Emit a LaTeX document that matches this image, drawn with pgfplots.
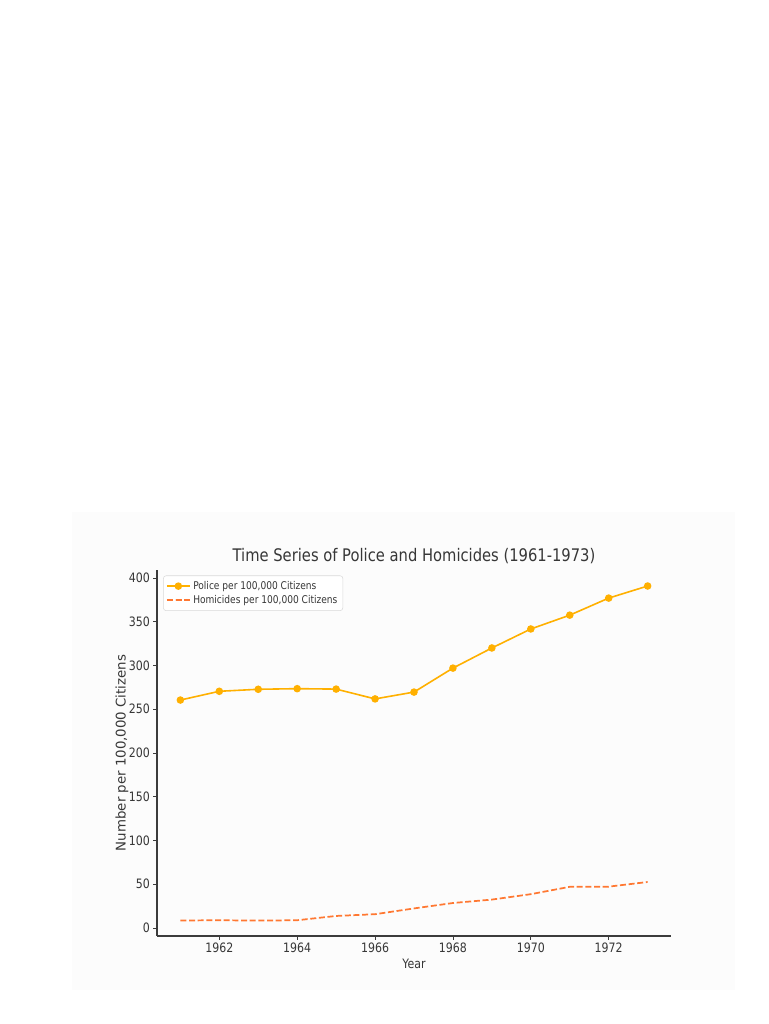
\documentclass[border=0pt]{standalone}
\usepackage{pgfplots}
\pgfplotsset{compat=1.18}
\usepackage{fontspec}
\setmainfont{DejaVu Sans}
\newfontfamily\cond[FakeStretch=0.85]{DejaVu Sans}
\definecolor{police}{RGB}{255,176,0}
\definecolor{homi}{RGB}{255,120,50}
\definecolor{bgc}{RGB}{252,252,252}
\definecolor{axc}{RGB}{60,60,60}
\definecolor{txc}{RGB}{55,55,55}
\begin{document}
\begin{tikzpicture}
\path (0,0) rectangle (576pt,768pt);
\fill[bgc] (54pt,25.5pt) rectangle (551.25pt,384pt);
\begin{axis}[
  at={(117.75pt,66pt)}, anchor=south west,
  scale only axis, width=385.5pt, height=274.5pt,
  xmin=1960.4, xmax=1973.6, ymin=-9.1, ymax=409.1,
  axis x line*=bottom, axis y line*=left,
  axis line style={-, draw=axc, line width=0.8pt},
  xtick={1962,1964,...,1972}, ytick={0,50,...,400},
  tick align=outside, major tick length=3pt,
  tick style={draw=axc, line width=0.6pt},
  /pgf/number format/1000 sep={},
  /pgf/number format/assume math mode=true,
  ticklabel style={font=\cond\fontsize{9.7}{11}\selectfont, text=txc},
  yticklabel style={xshift=1.2pt},
  xticklabel style={yshift=1.5pt},
  xlabel={Year}, ylabel={Number per 100,000 Citizens},
  xlabel style={font=\cond\fontsize{9.7}{11}\selectfont, text=txc, yshift=2pt},
  ylabel style={font=\fontsize{10}{12}\selectfont, text=txc},
  ylabel shift=-6.5pt,
  title={Time Series of Police and Homicides (1961-1973)},
  title style={font=\cond\fontsize{13}{15}\selectfont, text=txc, at={(0.5,1)}, anchor=south, yshift=-5pt},
  legend style={at={(0.012,0.985)}, anchor=north west, draw=black!15, rounded corners=2pt,
    fill=white, font=\cond\fontsize{8}{10}\selectfont, text=txc, row sep=-1pt, inner sep=2pt},
  legend cell align=left,
]
\addplot[police, line width=1.2pt, mark=*, mark size=2.2pt, mark options={solid, fill=police, draw=police}] coordinates {
(1961,260.5) (1962,270.5) (1963,272.8) (1964,273.5) (1965,273.0) (1966,261.8) (1967,269.6) (1968,297.0) (1969,320.0) (1970,341.7) (1971,357.5) (1972,377.0) (1973,390.8)
};
\addlegendentry{Police per 100,000 Citizens}
\addplot[homi, line width=1.3pt, dash pattern=on 4.5pt off 2pt] coordinates {
(1961,8.6) (1962,8.9) (1963,8.5) (1964,8.9) (1965,13.8) (1966,15.8) (1967,22.4) (1968,28.6) (1969,32.5) (1970,38.7) (1971,47.1) (1972,47.3) (1973,52.6)
};
\addlegendentry{Homicides per 100,000 Citizens}
\end{axis}
\end{tikzpicture}
\end{document}
